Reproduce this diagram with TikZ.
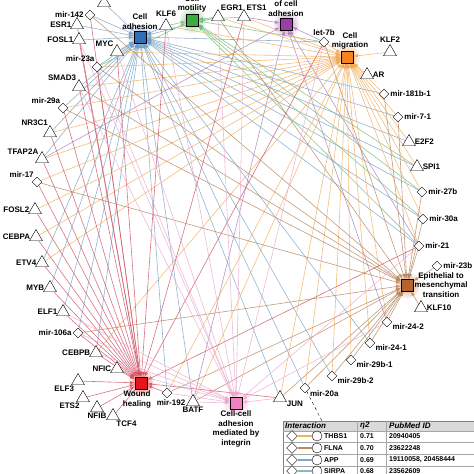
\documentclass[tikz,border=0pt]{standalone}
\usepackage{fontspec}
\setmainfont{Liberation Sans}
\usetikzlibrary{shapes.geometric,fadings}
\pgfdeclarelayer{edges}
\pgfsetlayers{edges,main}
\definecolor{adhsq}{HTML}{2F6DB5}  \definecolor{adhln}{HTML}{7FA6CB}
\definecolor{motsq}{HTML}{3DAA3D}  \definecolor{motln}{HTML}{7CBF7C}
\definecolor{regsq}{HTML}{9B3FA8}  \definecolor{regln}{HTML}{A884C4}
\definecolor{migsq}{HTML}{F58220}  \definecolor{migln}{HTML}{F2B264}
\definecolor{emtsq}{HTML}{B5632D}  \definecolor{emtln}{HTML}{B98A64}
\definecolor{woundsq}{HTML}{E8141C}\definecolor{woundln}{HTML}{D05A6A}
\definecolor{intsq}{HTML}{F080C0}  \definecolor{intln}{HTML}{EBAED0}
\definecolor{sirpaln}{HTML}{8DB6C6}
\tikzfading[name=glowfade, inner color=transparent!35, outer color=transparent!100]
\tikzset{
  gene/.style={regular polygon, regular polygon sides=3, draw, fill=white, inner sep=0pt, minimum size=15pt},
  mirna/.style={diamond, draw, fill=white, inner sep=0pt, minimum width=10pt, minimum height=10pt},
  proc/.style={rectangle, draw, line width=0.8pt, inner sep=0pt, minimum size=12pt},
  lab/.style={font=\fontsize{8}{9.6}\selectfont\bfseries, inner sep=1pt, align=center},
  every label/.style={lab},
  link/.style={line width=0.6pt, opacity=0.85, -latex},
}
\begin{document}
\begin{tikzpicture}[x=1pt,y=-1pt]
\useasboundingbox (0,0) rectangle (474,474);
\clip (0,0) rectangle (474,474);
% processes
\node[proc, fill=adhsq, label=above:{Cell\\adhesion}] (ca) at (140,37) {};
\node[proc, fill=motsq, label=above:{Cell\\motility}] (cmot) at (192,20) {};
\node[proc, fill=regsq, label=above:{of cell\\adhesion}] (rca) at (286,24) {};
\node[proc, fill=migsq, label={[xshift=3pt]above:{Cell\\migration}}] (cmig) at (347,57) {};
\node[proc, fill=emtsq, label=right:{Epithelial to\\mesenchymal\\transition}] (emt) at (407,285) {};
\node[proc, fill=woundsq, label={[xshift=-4pt]below:{Wound\\healing}}] (wh) at (141,383) {};
\node[proc, fill=intsq, label=below:{Cell-cell\\adhesion\\mediated by\\integrin}] (int) at (236,403) {};
% left ring
\node[gene] (topg) at (104,3) {};
\node[mirna, label=left:mir-142] (mir142) at (90,15) {};
\node[gene, label=left:ESR1] (esr1) at (77,25) {};
\node[gene, label=left:FOSL1] (fosl1) at (79,40) {};
\node[gene, label=120:MYC] (myc) at (117,52) {};
\node[mirna, label=110:mir-23a] (mir23a) at (97,67) {};
\node[gene, label=110:SMAD3] (smad3) at (79,87) {};
\node[mirna, label=115:mir-29a] (mir29a) at (63,108) {};
\node[gene, label=100:NR3C1] (nr3c1) at (50,133) {};
\node[gene, label=125:TFAP2A] (tfap2a) at (42,159) {};
\node[mirna, label=125:mir-17] (mir17) at (37,182) {};
\node[gene, label=left:FOSL2] (fosl2) at (35,210) {};
\node[gene, label=left:CEBPA] (cebpa) at (36,237) {};
\node[gene, label=left:ETV4] (etv4) at (42,263) {};
\node[gene, label=left:MYB] (myb) at (50,288) {};
\node[gene, label=left:ELF1] (elf1) at (63,312) {};
\node[mirna, label=left:mir-106a] (mir106a) at (78,333) {};
\node[gene, label=left:CEBPB] (cebpb) at (96,353) {};
\node[gene, label=left:NFIC] (nfic) at (117,369) {};
\node[gene, label=235:ELF3] (elf3) at (78,381) {};
\node[gene, label=240:ETS2] (ets2) at (83,398) {};
\node[gene, label=below:NFIB] (nfib) at (97,408) {};
\node[gene, label=300:TCF4] (tcf4) at (113,416) {};
% bottom
\node[mirna, label={[xshift=4pt]below:mir-192}] (mir192) at (167,393) {};
\node[gene, label=below:BATF] (batf) at (193,402) {};
\node[gene, label=-20:JUN] (jun) at (280,398) {};
\node[mirna, label=-20:mir-20a] (mir20a) at (305,388) {};
% right ring
\node[mirna, label=-10:mir-29b-2] (mir29bii) at (332,376) {};
\node[mirna, label=-10:mir-29b-1] (mir29bi) at (351,360) {};
\node[mirna, label=-10:mir-24-1] (mir24i) at (370,343) {};
\node[mirna, label=-10:mir-24-2] (mir24ii) at (387,322) {};
\node[gene, label=right:KLF10] (klf10) at (421,308) {};
\node[mirna, label=right:mir-23b] (mir23b) at (437,266) {};
\node[mirna, label=right:mir-21] (mir21) at (419,246) {};
\node[mirna, label=right:mir-30a] (mir30a) at (423,219) {};
\node[mirna, label=right:mir-27b] (mir27b) at (422,192) {};
\node[gene, label=right:SPI1] (spi1) at (417,167) {};
\node[gene, label=right:E2F2] (e2f2) at (409,142) {};
\node[mirna, label=right:mir-7-1] (mir71) at (398,117) {};
\node[mirna, label=right:mir-181b-1] (mir181b) at (384,94) {};
\node[gene, label=right:AR] (ar) at (367,75) {};
\node[gene, label=above:KLF2] (klf2) at (390,52) {};
% top
\node[mirna, label=above:let-7b] (let7b) at (324,42) {};
\node[gene, label=75:ETS1] (ets1) at (244,17) {};
\node[gene, label=70:EGR1] (egr1) at (218,17) {};
\node[gene, label=above:KLF6] (klf6) at (166,26) {};
% connectors
\begin{pgfonlayer}{edges}
\foreach \s in {mir142,esr1,fosl1,myc,klf6,mir23a,smad3,mir29a,nr3c1,tfap2a,etv4,myb,elf1,mir106a,cebpb,let7b,egr1,mir181b,mir71,e2f2,spi1,mir27b,mir30a,mir21,mir24i,mir29bii,mir20a,jun,batf,mir192,topg}
  \draw[link, adhln] (\s) -- (ca);
\foreach \s in {klf6,egr1,ets1,let7b,mir27b,mir30a,mir21,spi1,mir23a}
  \draw[link, motln] (\s) -- (cmot);
\foreach \s in {ets1,let7b,tfap2a,mir21,mir24ii,batf}
  \draw[link, regln] (\s) -- (rca);
\foreach \s in {klf2,ar,let7b,mir181b,mir71,e2f2,spi1,mir27b,mir30a,mir21,mir24ii,mir24i,mir29bi,mir29bii,mir20a,jun,batf,mir192,cebpb,fosl2,cebpa,etv4,mir17,tfap2a,nr3c1,mir29a,smad3,mir23a,klf6,egr1,ets1,myc}
  \draw[link, migln] (\s) -- (cmig);
\foreach \s in {mir23b,klf10,mir24ii,mir24i,mir29bi,mir29bii,mir20a,jun,batf,mir192,mir21,mir30a,mir27b,mir71,mir181b,let7b,mir23a,mir29a,smad3,mir17,mir142,mir106a,egr1}
  \draw[link, emtln] (\s) -- (emt);
\foreach \s in {nfic,cebpb,mir106a,elf1,myb,etv4,cebpa,fosl2,mir17,tfap2a,nr3c1,mir29a,smad3,mir23a,myc,fosl1,esr1,mir142,elf3,ets2,nfib,tcf4,mir192,jun,mir21,let7b,ets1,klf6}
  \draw[link, woundln] (\s) -- (wh);
\foreach \s in {mir192,batf,jun,cebpb,nfic,mir106a,elf1,myc,mir23a,smad3,klf6,fosl1,egr1,ets1,mir21,mir24ii,let7b}
  \draw[link, intln] (\s) -- (int);
% glow where the tips meet
\foreach \p/\c in {ca/adhsq,cmot/motsq,rca/regsq,cmig/migsq,emt/emtsq,wh/woundsq,int/intsq}
  \fill[\c, path fading=glowfade] (\p) circle (14pt);
\end{pgfonlayer}
% legend
\draw[gray, fill=white] (283,421) rectangle (480,480);
\fill[gray!30] (283.5,421.5) rectangle (479,431);
\draw[gray!70] (357,421) -- (357,480) (386,421) -- (386,480)
  (283,431) -- (480,431) (283,442) -- (480,442) (283,454) -- (480,454) (283,466) -- (480,466);
\node[lab, anchor=west] (hint) at (284,426) {\itshape Interaction};
\node[lab, anchor=west] (heta) at (359,426) {\itshape η2};
\node[lab, anchor=west] (hpub) at (388,426) {\itshape PubMed ID};
\coordinate (legtop) at (322,421);
\draw[dashed] (mir20a) -- (legtop);
\foreach \y/\g/\v/\p/\c [count=\i] in {436/THBS1/0.71/20940405/migln, 448/FLNA/0.70/23622248/emtln,
    460/APP/0.69/{19110058, 20458444}/adhln, 471/SIRPA/0.68/23562609/sirpaln}{
  \node[mirna, minimum width=11pt, minimum height=11pt] (ld\i) at (292,\y) {};
  \node[circle, draw, fill=white, minimum size=10pt, inner sep=0pt] (lc\i) at (317,\y) {};
  \draw[\c, line width=1.2pt] (ld\i) -- (lc\i);
  \node[lab, font=\fontsize{7}{8}\selectfont\bfseries, anchor=west] (lg\i) at (323,\y) {\g};
  \node[lab, font=\fontsize{7}{8}\selectfont\bfseries, anchor=west] (lv\i) at (359,\y) {\v};
  \node[lab, font=\fontsize{7}{8}\selectfont\bfseries, anchor=west] (lp\i) at (388,\y) {\p};
}
\end{tikzpicture}
\end{document}
